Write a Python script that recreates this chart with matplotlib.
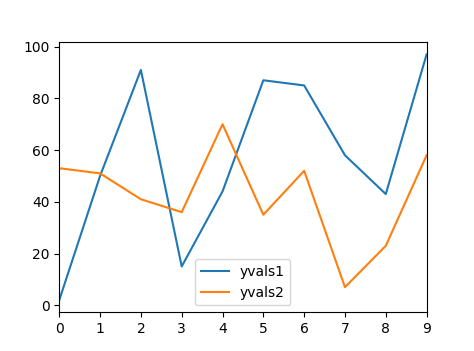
import matplotlib
matplotlib.use("Agg")
import matplotlib.pyplot as plt

xvals = list(range(10))
yvals1 = [2, 50, 91, 15, 44, 87, 85, 58, 43, 97]
yvals2 = [53, 51, 41, 36, 70, 35, 52, 7, 23, 58]

fig, ax = plt.subplots(figsize=(4.74, 3.51), dpi=100)
ax.plot(xvals, yvals1, label="yvals1")
ax.plot(xvals, yvals2, label="yvals2")
ax.set_xlim(0, 9)
ax.set_xticks(xvals)
ax.legend()
fig.savefig("out.png", dpi=100)
